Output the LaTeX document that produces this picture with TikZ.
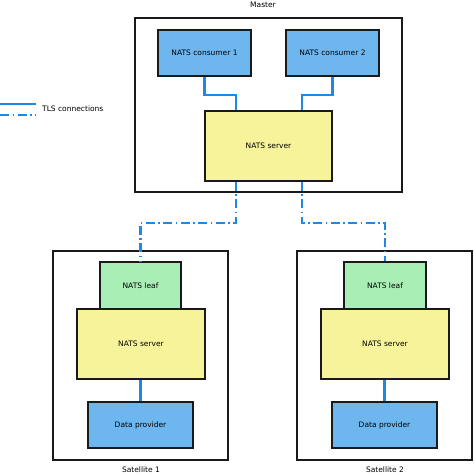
\documentclass[tikz,border=0pt]{standalone}
\usepackage{fontspec}
\setmainfont{DejaVu Sans}
\definecolor{boxblue}{HTML}{6DB6EE}
\definecolor{boxyellow}{HTML}{F7F39A}
\definecolor{boxgreen}{HTML}{A9EEB5}
\definecolor{linkblue}{HTML}{1E88E5}
\definecolor{frame}{HTML}{1A1A1A}
\tikzset{
  every node/.style={font=\fontsize{7.5}{9}\selectfont, text=black},
  container/.style={draw=frame, line width=1.4pt, fill=white, rectangle, inner sep=0pt},
  comp/.style={draw=frame, line width=1.4pt, rectangle, inner sep=0pt},
  bluebox/.style={comp, fill=boxblue},
  yellowbox/.style={comp, fill=boxyellow},
  greenbox/.style={comp, fill=boxgreen},
  link/.style={draw=linkblue, line width=2.2pt},
  tls/.style={draw=linkblue, line width=2.2pt, dash pattern=on 9pt off 3.5pt on 1.5pt off 3.5pt},
  caption/.style={inner sep=0pt}
}
\begin{document}
\begin{tikzpicture}[x=1pt,y=-1pt]
\useasboundingbox (0,0) rectangle (474,475);
% containers
\node[container, minimum width=267pt, minimum height=174pt] (master) at (268.5,105) {};
\node[container, minimum width=175pt, minimum height=209pt] (sat1) at (140.5,355.5) {};
\node[container, minimum width=175pt, minimum height=209pt] (sat2) at (384.5,355.5) {};
% captions
\node[caption] (mlabel) at (263,5) {Master};
\node[caption] (s1label) at (141,470) {Satellite 1};
\node[caption] (s2label) at (385,470) {Satellite 2};
% master components
\node[bluebox, minimum width=93pt, minimum height=46pt] (c1) at (204.5,53) {NATS consumer 1};
\node[bluebox, minimum width=93pt, minimum height=46pt] (c2) at (332.5,53) {NATS consumer 2};
\node[yellowbox, minimum width=127pt, minimum height=70pt] (sm) at (268.5,146) {NATS server};
% satellite 1
\node[greenbox, minimum width=81pt, minimum height=47pt] (leaf1) at (140.5,285.5) {NATS leaf};
\node[yellowbox, minimum width=128pt, minimum height=70pt] (s1) at (141,344) {NATS server};
\node[bluebox, minimum width=105pt, minimum height=46pt] (p1) at (140.5,425) {Data provider};
% satellite 2
\node[greenbox, minimum width=82pt, minimum height=47pt] (leaf2) at (385,285.5) {NATS leaf};
\node[yellowbox, minimum width=128pt, minimum height=70pt] (s2) at (385,344) {NATS server};
\node[bluebox, minimum width=105pt, minimum height=46pt] (p2) at (384.5,425) {Data provider};
% links in master
\coordinate (smin1) at ([xshift=32pt]sm.north west);
\coordinate (smin2) at ([xshift=-31pt]sm.north east);
\draw[link] (c1.south) -- ++(0,18) -| (smin1);
\draw[link] (c2.south) -- ++(0,18) -| (smin2);
% links in satellites
\draw[link] (p1.north |- s1.south) -- (p1.north);
\draw[link] (p2.north |- s2.south) -- (p2.north);
% TLS links
\coordinate (smout1) at ([xshift=32pt]sm.south west);
\coordinate (smout2) at ([xshift=-31pt]sm.south east);
\draw[tls] (smout1) -- ++(0,41) -| (leaf1.north);
\draw[tls] (smout2) -- ++(0,41) -| (leaf2.north);
% legend
\coordinate (lg1a) at (0,104);
\coordinate (lg1b) at (36,104);
\coordinate (lg2a) at (0,115);
\coordinate (lg2b) at (36,115);
\draw[link] (lg1a) -- (lg1b);
\draw[tls] (lg2a) -- (lg2b);
\node[caption, anchor=west] (legend) at (42,109) {TLS connections};
\end{tikzpicture}
\end{document}
